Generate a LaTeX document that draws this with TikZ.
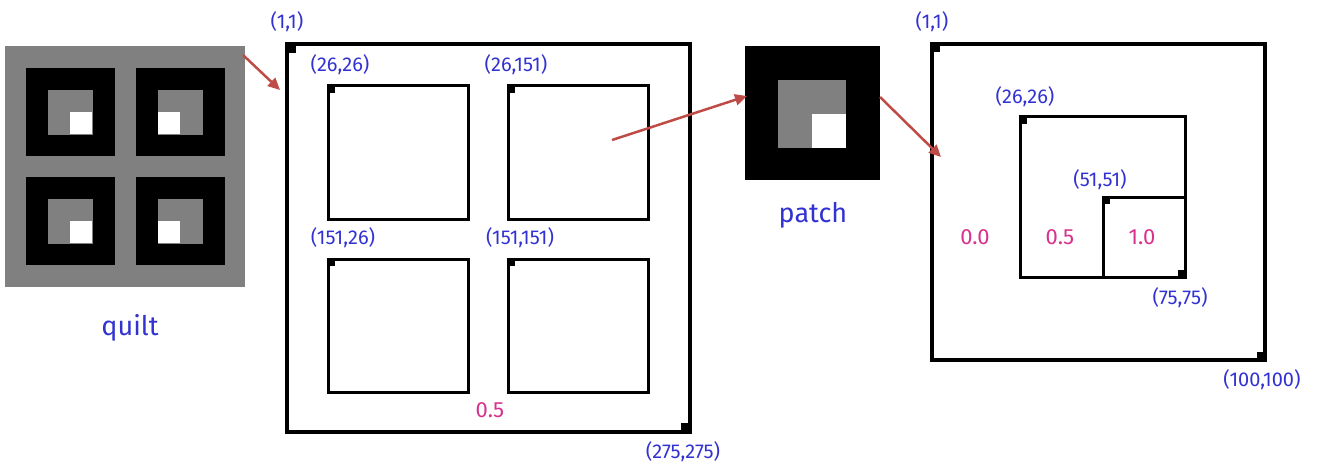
\documentclass[tikz,border=0pt]{standalone}
\usepackage{fontspec}
\setmainfont{Fira Sans}
\usetikzlibrary{arrows.meta}
\definecolor{lblue}{RGB}{50,50,210}
\definecolor{lmag}{RGB}{215,50,140}
\definecolor{arr}{RGB}{190,75,70}
\definecolor{qgray}{RGB}{128,128,128}
\begin{document}
\begin{tikzpicture}[x=1pt,y=-1pt,
  lb/.style={text=lblue,font=\fontsize{20}{22}\selectfont,inner sep=0pt},
  lm/.style={text=lmag,font=\fontsize{22}{24}\selectfont,inner sep=0pt},
  frame/.style={draw=black,line width=4pt},
  arrowst/.style={draw=arr,line width=2.5pt,-{Triangle[length=12pt,width=11pt]}}]
\useasboundingbox (0,0) rectangle (1324,468);
% quilt
\fill[qgray] (5,46) rectangle (245,287);
\foreach \x/\y/\w in {26/68/70, 136/68/158, 26/177/70, 136/177/158}{
  \fill[black] (\x,\y) rectangle ++(89,88);
  \fill[qgray] (\x+22,\y+22) rectangle ++(45,45);
  \fill[white] (\w,\y+44) rectangle ++(22,22);
}
\node[lb,font=\fontsize{27}{29}\selectfont] (quilt) at (130,328) {quilt};
% frame 1
\node[frame,minimum width=403pt,minimum height=388pt,inner sep=0pt] (f1) at (488.5,238) {};
\fill (287,44) rectangle ++(9,9);
\fill (690,432) rectangle ++(-9,-9);
\foreach \x/\y/\n in {328/86/a, 508/86/b, 328/259/c, 508/259/d}{
  \draw[line width=3pt] (\x,\y) rectangle ++(140,133);
  \fill (\x,\y) rectangle ++(7,7);
}
\coordinate (b1) at (612,140);
\node[lb] (l1) at (287,22) {(1,1)};
\node[lb] (l2) at (340,65) {(26,26)};
\node[lb] (l3) at (516,65) {(26,151)};
\node[lb] (l4) at (343,238) {(151,26)};
\node[lb] (l5) at (520,238) {(151,151)};
\node[lm] (l6) at (490,410) {0.5};
\node[lb] (l7) at (683,452) {(275,275)};
% patch
\node[fill=black,minimum width=135pt,minimum height=134pt,inner sep=0pt] (patch) at (812.5,113) {};
\fill[qgray] (778,80) rectangle (846,148);
\fill[white] (812,114) rectangle (846,148);
\node[lb,font=\fontsize{27}{29}\selectfont] (pl) at (813,215) {patch};
% frame 2
\node[frame,minimum width=333pt,minimum height=316pt,inner sep=0pt] (f2) at (1098.5,202) {};
\fill (932,44) rectangle ++(8,8);
\fill (1265,360) rectangle ++(-8,-8);
\draw[line width=3pt] (1020,117) rectangle (1185,277);
\fill (1020,117) rectangle ++(7,7);
\draw[line width=3pt] (1103,197) rectangle (1185,277);
\fill (1103,197) rectangle ++(7,7);
\fill (1185,277) rectangle ++(-7,-7);
\node[lb] (m1) at (932,22) {(1,1)};
\node[lb] (m2) at (1025,97) {(26,26)};
\node[lb] (m3) at (1100,180) {(51,51)};
\node[lm] (m4) at (975,237) {0.0};
\node[lm] (m5) at (1060,237) {0.5};
\node[lm] (m6) at (1142,237) {1.0};
\node[lb] (m7) at (1180,298) {(75,75)};
\node[lb] (m8) at (1262,380) {(100,100)};
% arrows
\coordinate (q1) at (243,55);
\coordinate (q2) at (280,90);
\draw[arrowst] (q1) -- (q2);
\coordinate (p2) at (747,96);
\draw[arrowst] (b1) -- (p2);
\coordinate (r1) at (880,97);
\coordinate (r2) at (941,157);
\draw[arrowst] (r1) -- (r2);
\end{tikzpicture}
\end{document}
